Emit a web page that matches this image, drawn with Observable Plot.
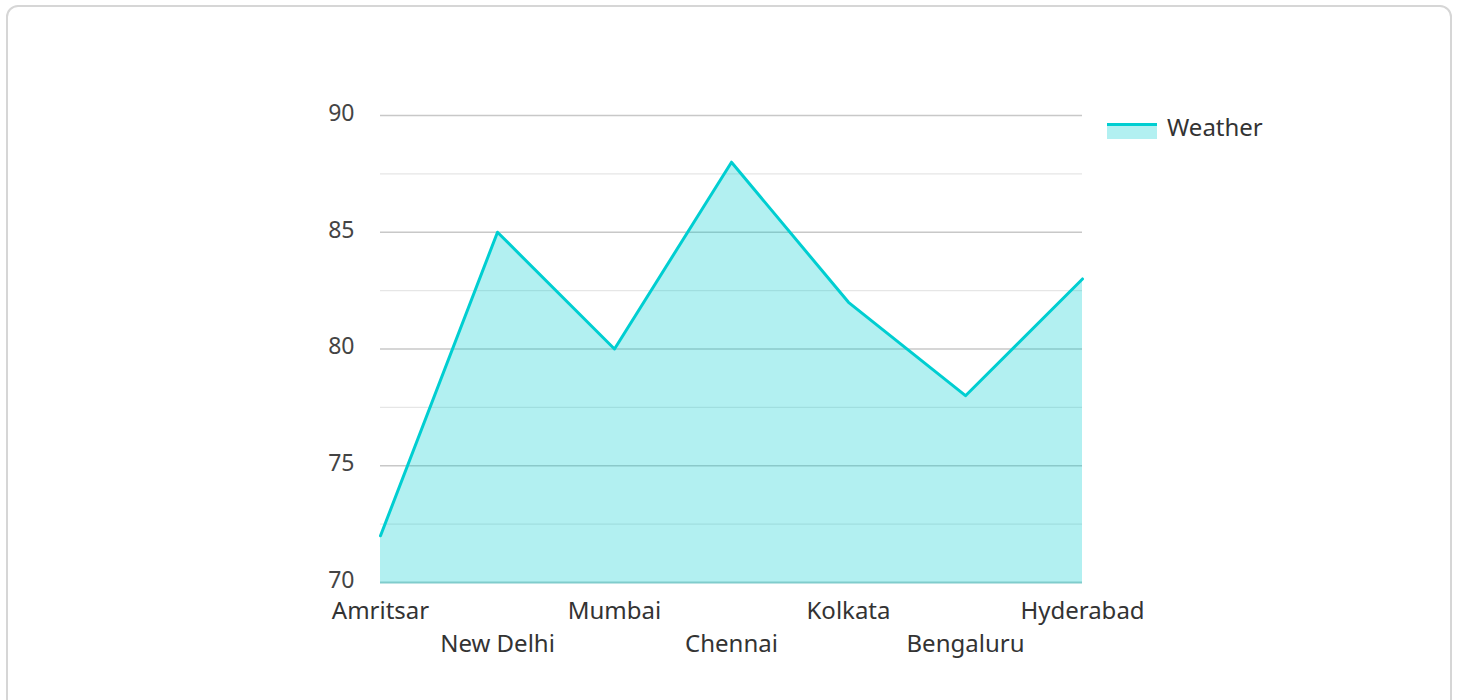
<!DOCTYPE html>
<html><head><meta charset="utf-8">
<script src="https://cdn.jsdelivr.net/npm/d3@7"></script>
<script src="https://cdn.jsdelivr.net/npm/@observablehq/plot@0.6"></script>
<style>
html,body{margin:0;padding:0;background:#fff;font-family:"Noto Sans","Open Sans",sans-serif;}
#wrap{position:relative;width:1458px;height:700px;overflow:hidden;}
#card{position:absolute;left:6px;top:5px;width:1446px;height:720px;border:2px solid #d6d6d6;border-radius:12px;box-sizing:border-box;}
#chart{position:absolute;left:0;top:0;}
#legend{position:absolute;left:1107px;top:110px;display:flex;align-items:center;font-size:24px;color:#333;}
#sw{width:50px;height:16px;background:rgba(0,206,209,0.3);border-top:3px solid #00ced1;box-sizing:border-box;margin-right:10px;margin-top:8px;}
</style></head>
<body><div id="wrap"><div id="card"></div><div id="chart"></div>
<div id="legend"><div id="sw"></div><span>Weather</span></div></div>
<script>
const cities = ["Amritsar","New Delhi","Mumbai","Chennai","Kolkata","Bengaluru","Hyderabad"];
const weather = [72,85,80,88,82,78,83];
const majorTicks = [70,75,80,85,90];
const minorTicks = [72.5,77.5,82.5,87.5];

const data = cities.map((c,i)=>({city:c, value:weather[i], row:i%2}));

const svg = Plot.plot({
  width:1458, height:700,
  marginLeft:380, marginRight:376, marginTop:115, marginBottom:118,
  style:{fontFamily:"'Noto Sans','Open Sans',sans-serif", background:"transparent", color:"#333"},
  x:{type:"point", domain:cities, padding:0, axis:null},
  y:{domain:[70,90], axis:null},
  marks:[
    Plot.ruleY(minorTicks,{stroke:"#e6e6e6", strokeWidth:1.2}),
    Plot.ruleY(majorTicks.slice(1),{stroke:"#c8c8c8", strokeWidth:1.5}),
    Plot.areaY(data,{x:"city", y1:70, y2:"value", fill:"rgba(0,206,209,0.3)", curve:"linear"}),
    Plot.ruleY([70],{stroke:"#80cccc", strokeWidth:2}),
    Plot.lineY(data,{x:"city", y:"value", stroke:"#00ced1", strokeWidth:3, curve:"linear"}),
    Plot.text(majorTicks,{x:()=>cities[0], y:d=>d, text:d=>String(d), dx:-26, dy:-2, textAnchor:"end", fontSize:23, fill:"#444"}),
    Plot.text(data.filter(d=>d.row===0),{x:"city", y:70, text:"city", dy:29, fontSize:24, fill:"#333"}),
    Plot.text(data.filter(d=>d.row===1),{x:"city", y:70, text:"city", dy:62, fontSize:24, fill:"#333"})
  ]
});
document.getElementById("chart").appendChild(svg);
</script></body></html>
